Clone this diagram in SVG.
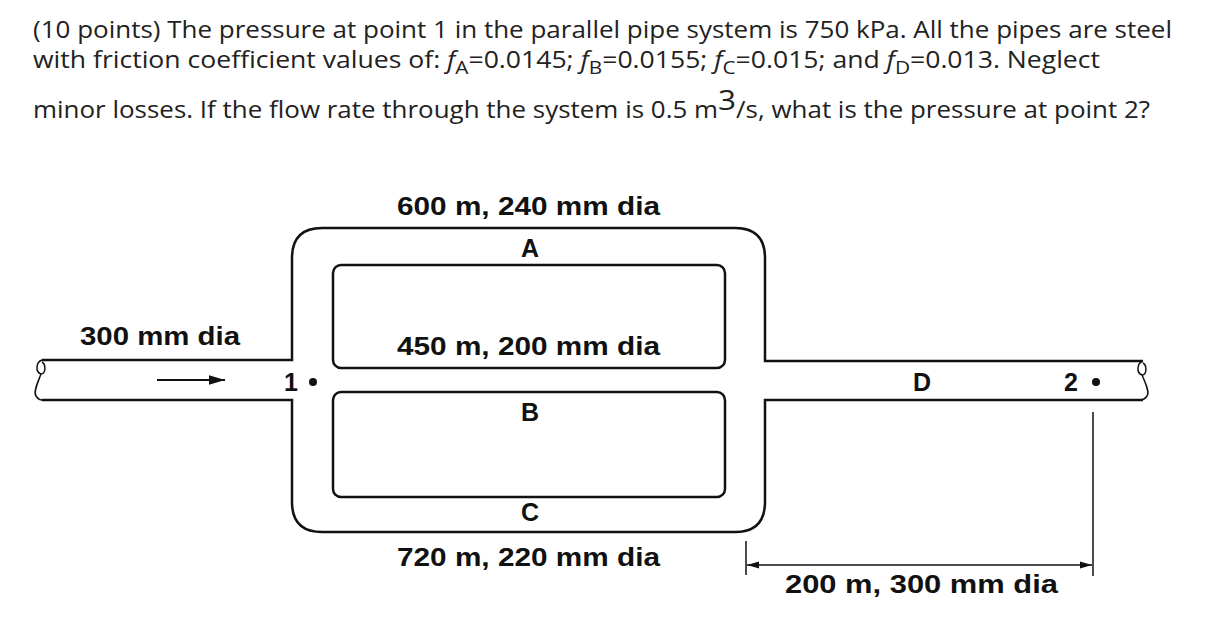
<svg xmlns="http://www.w3.org/2000/svg" width="1218" height="638" viewBox="0 0 1218 638">
<style>
.q{font-family:"Open Sans","Noto Sans",sans-serif;font-size:23px;fill:#222}
.l{font-family:"Liberation Sans",Arial,sans-serif;font-size:25px;font-weight:bold;fill:#111}
.p{fill:none;stroke:#111;stroke-width:2.5}
.t{fill:none;stroke:#111;stroke-width:1.5}
</style>
<defs><marker id="ah" viewBox="0 0 10 10" refX="10" refY="5" markerWidth="8" markerHeight="8" orient="auto-start-reverse"><path d="M0,2 L10,5 L0,8 Z" fill="#111"/></marker></defs>
<rect width="1218" height="638" fill="#fff"/>
<g id="question">
<text class="q" x="33" y="38" textLength="1139" lengthAdjust="spacingAndGlyphs">(10 points) The pressure at point 1 in the parallel pipe system is 750 kPa. All the pipes are steel</text>
<text class="q" x="33" y="68" textLength="1067" lengthAdjust="spacingAndGlyphs">with friction coefficient values of: <tspan font-style="italic">f</tspan><tspan font-size="18" dy="6">A</tspan><tspan dy="-6">=0.0145;  </tspan><tspan font-style="italic">f</tspan><tspan font-size="18" dy="6">B</tspan><tspan dy="-6">=0.0155; </tspan><tspan font-style="italic">f</tspan><tspan font-size="18" dy="6">C</tspan><tspan dy="-6">=0.015; and </tspan><tspan font-style="italic">f</tspan><tspan font-size="18" dy="6">D</tspan><tspan dy="-6">=0.013. Neglect</tspan></text>
<text class="q" x="33" y="118" textLength="1117" lengthAdjust="spacingAndGlyphs">minor losses. If the flow rate through the system is 0.5 m<tspan font-size="28" dy="-8">3</tspan><tspan dy="8">/s, what is the pressure at point 2?</tspan></text>
</g>
<g id="pipes">
<path class="p" d="M42,360 H292 V258 Q292,228 322,228 H735 Q765,228 765,258 V361 H1143"/>
<path class="p" d="M42,400 H292 V502 Q292,532 322,532 H735 Q765,532 765,502 V400 H1143"/>
<rect class="p" x="333" y="265" width="392" height="103" rx="8"/>
<rect class="p" x="333" y="392" width="392" height="105" rx="8"/>
<path class="t" d="M42,360 C36,362 35,372 41,374 C46,374 46,364 42,362 M41,374 C38,382 33,392 36,396 C38,399 41,400 42,400" stroke-width="2"/>
<path class="t" d="M1143,361 C1137,363 1136,373 1142,375 C1147,375 1147,365 1143,363 M1142,375 C1145,382 1150,392 1147,396 C1145,399 1142,400 1140,400" stroke-width="2"/>
<circle cx="313" cy="382" r="4" fill="#111"/>
<circle cx="1096" cy="382" r="4" fill="#111"/>
</g>
<g id="connectors">
<line x1="157" y1="380" x2="225" y2="380" stroke="#111" stroke-width="2" marker-end="url(#ah)"/>
<line x1="746" y1="541" x2="746" y2="575" class="t"/>
<line x1="1093" y1="412" x2="1093" y2="576" class="t"/>
<line x1="747" y1="565" x2="1092" y2="565" class="t" marker-start="url(#ah)" marker-end="url(#ah)"/>
</g>
<g id="labels">
<text class="l" x="397" y="215" textLength="263" lengthAdjust="spacingAndGlyphs">600 m, 240 mm dia</text>
<text class="l" x="530" y="257" text-anchor="middle">A</text>
<text class="l" x="397" y="355" textLength="263" lengthAdjust="spacingAndGlyphs">450 m, 200 mm dia</text>
<text class="l" x="530" y="421" text-anchor="middle">B</text>
<text class="l" x="530" y="521" text-anchor="middle">C</text>
<text class="l" x="397" y="566" textLength="263" lengthAdjust="spacingAndGlyphs">720 m, 220 mm dia</text>
<text class="l" x="80" y="345" textLength="160" lengthAdjust="spacingAndGlyphs">300 mm dia</text>
<text class="l" x="284" y="391">1</text>
<text class="l" x="922" y="391" text-anchor="middle">D</text>
<text class="l" x="1064" y="391">2</text>
<text class="l" x="785" y="593" textLength="273" lengthAdjust="spacingAndGlyphs">200 m, 300 mm dia</text>
</g>
</svg>
